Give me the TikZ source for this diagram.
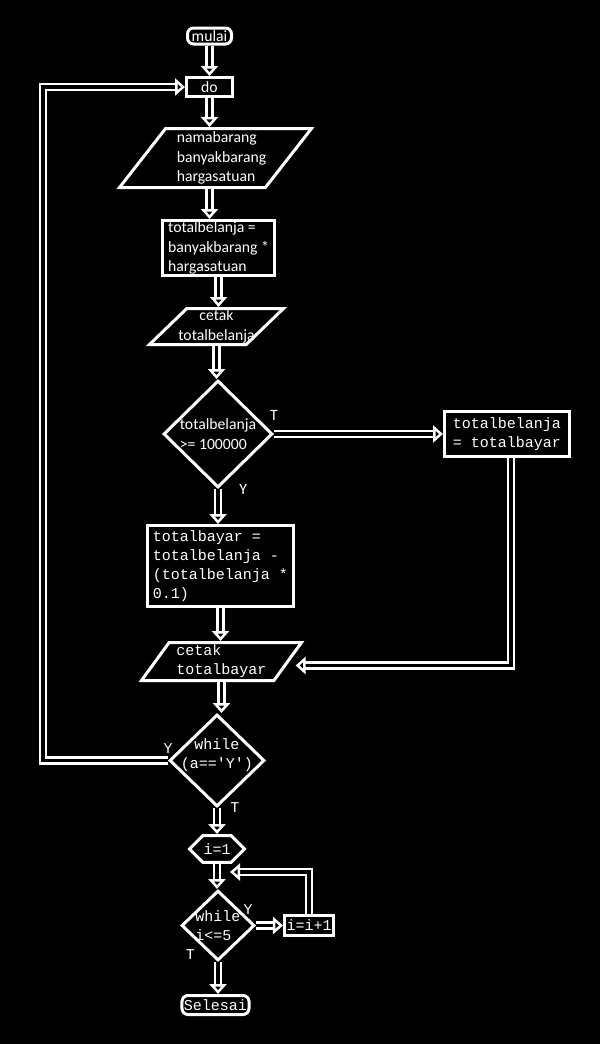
\documentclass[tikz,border=0pt]{standalone}
\usepackage{fontspec}
\setmainfont{Carlito}
\newfontfamily\monofont{Liberation Mono}
\usetikzlibrary{shapes.geometric,shapes.misc,arrows.meta}

\tikzset{
  txt/.style={text=white, inner sep=0pt, font=\fontsize{15.7}{19.5}\selectfont},
  mtxt/.style={txt, font=\monofont\fontsize{15}{19}\selectfont},
  box/.style={txt, draw=white, line width=3pt},
  mbox/.style={mtxt, draw=white, line width=3pt},
  io/.style={trapezium, draw=white, line width=3pt},
  decision/.style={diamond, draw=white, line width=3pt, inner sep=0pt},
  arrow/.style={draw=white, line width=2.5pt, double=black, double distance=3.5pt,
    -{Triangle[open, length=10pt, width=17pt]}},
  lbl/.style={txt, pos=0},
  mlbl/.style={mtxt, pos=0},
}

\begin{document}
\begin{tikzpicture}[x=1pt, y=-1pt]
  \fill[black] (0,0) rectangle (600,1044);
  \useasboundingbox (0,0) rectangle (600,1044);

  \node[box, rounded corners=6pt, minimum width=44, minimum height=16] (mulai) at (209.5,36) {mulai};
  \node[box, minimum width=46, minimum height=19] (do) at (209.5,87) {do};
  \node[io, trapezium left angle=52, trapezium right angle=128, inner xsep=49.9pt, inner ysep=29.5pt,
    label={[txt, align=left, xshift=6]center:{namabarang\\banyakbarang\\hargasatuan}}] (input) at (215.5,158) {};
  \node[box, align=left, minimum width=112, minimum height=55] (hitung) at (218.5,248)
    {totalbelanja =\\banyakbarang *\\hargasatuan};
  \node[io, trapezium left angle=44, trapezium right angle=136, inner xsep=29.7pt, inner ysep=18pt,
    label={[txt, align=center]center:{cetak\\totalbelanja}}] (cetak1) at (216.5,326.5) {};
  \node[decision, minimum width=109, minimum height=107,
    label={[txt, align=left]center:{totalbelanja\\>= 100000}}] (cek) at (218,434) {};
  \node[mbox, align=left, minimum width=125, minimum height=45] (tanpadiskon) at (507,434)
    {totalbelanja\\= totalbayar};
  \node[mbox, align=left, minimum width=146, minimum height=81] (diskon) at (220.5,566)
    {totalbayar =\\totalbelanja -\\(totalbelanja *\\0.1)};
  \node[io, trapezium left angle=54, trapezium right angle=126, inner xsep=52.4pt, inner ysep=19pt,
    label={[mtxt, align=left]center:{cetak\\totalbayar}}] (cetak2) at (221.5,661.5) {};
  \node[decision, minimum width=95, minimum height=92,
    label={[mtxt, align=center, yshift=5]center:{while\\(a=='Y')}}] (ulang) at (217,760.5) {};
  \node[mbox, chamfered rectangle, chamfered rectangle xsep=8pt, chamfered rectangle ysep=8pt,
    minimum width=55, minimum height=15] (init) at (217,849) {i=1};
  \node[decision, minimum width=73, minimum height=70,
    label={[mtxt, align=left]center:{while\\i<=5}}] (loop) at (218,925.5) {};
  \node[mbox, inner xsep=2pt, minimum height=20] (inc) at (309,925.5) {i=i+1};
  \node[mbox, rounded corners=6pt, inner xsep=2pt, minimum height=19] (selesai) at (215.5,1005) {Selesai};
  \coordinate (balik) at (230,872);

  \draw[arrow] (mulai) -- (mulai |- do.north);
  \draw[arrow] (do) -- (do |- input.north);
  \draw[arrow] (input.south -| do) -- (do |- hitung.north);
  \draw[arrow] (hitung) -- (hitung |- cetak1.north);
  \draw[arrow] (cetak1) -- (cetak1 |- cek.north);
  \draw[arrow] (cek) -- node[lbl, above=12] {T} (tanpadiskon);
  \draw[arrow] (cek) -- node[lbl, right=20] {Y} (cek |- diskon.north);
  \draw[arrow] (diskon) -- (diskon |- cetak2.north);
  \draw[arrow] ([xshift=4]tanpadiskon.south) |- ([xshift=6, yshift=-4]cetak2.east);
  \draw[arrow] (cetak2) -- (cetak2 |- ulang.north);
  \draw[arrow] (ulang.west) -- node[mlbl, above=6] {Y} ++(-125,0) |- (do.west);
  \draw[arrow] (ulang) -- node[mlbl, right=12] {T} (ulang |- init.north);
  \draw[arrow] (init) -- (init |- loop.north);
  \draw[arrow] (loop) -- node[mlbl, above=10, xshift=-8] {Y} (inc);
  \draw[arrow] (inc.north) |- (balik);
  \draw[arrow] (loop) -- node[mlbl, left=22, yshift=7] {T} (loop |- selesai.north);
\end{tikzpicture}
\end{document}
